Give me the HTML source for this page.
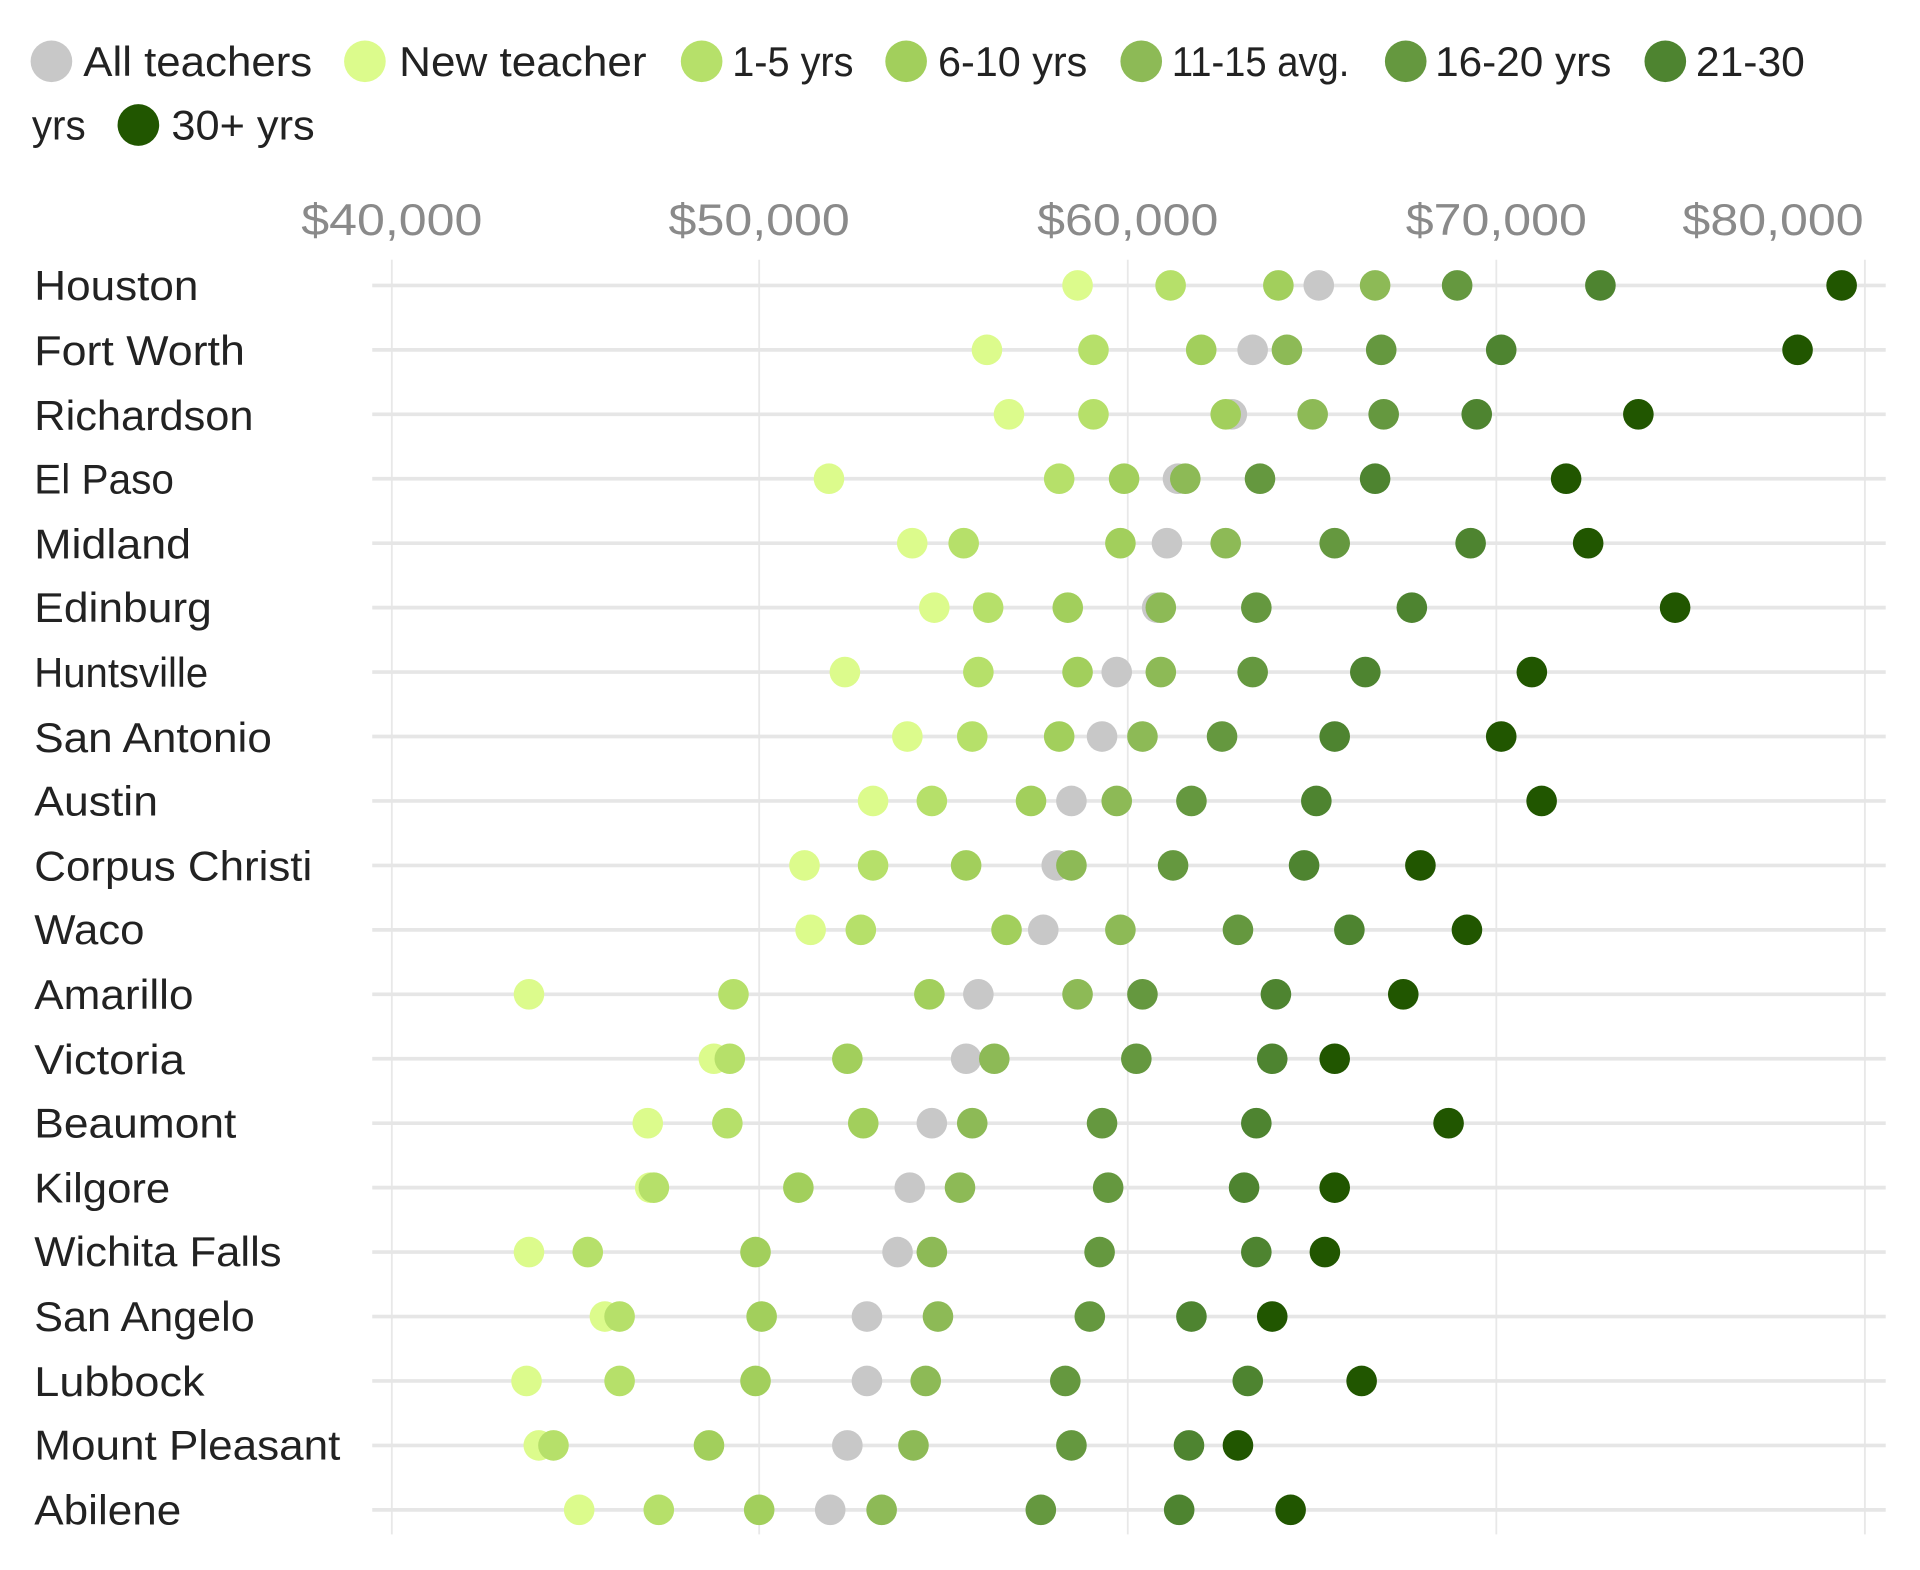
<!DOCTYPE html>
<html><head><meta charset="utf-8"><style>
html,body{margin:0;padding:0;background:#fff;}
svg{display:block;}
text{font-family:"Liberation Sans",sans-serif;}
</style></head><body>
<svg id="s" width="1920" height="1570" viewBox="0 0 1568 1282" xmlns="http://www.w3.org/2000/svg">
<g id="grid"></g>
<g font-size="34" fill="#222" lengthAdjust="spacingAndGlyphs">
<circle cx="42" cy="50" r="17" fill="#c8c8c8"/><text x="68" y="62" textLength="187" lengthAdjust="spacingAndGlyphs">All teachers</text>
<circle cx="298" cy="50" r="17" fill="#dcfb8c"/><text x="326" y="62" textLength="202" lengthAdjust="spacingAndGlyphs">New teacher</text>
<circle cx="573" cy="50" r="17" fill="#b6e06a"/><text x="598" y="62" textLength="99" lengthAdjust="spacingAndGlyphs">1-5 yrs</text>
<circle cx="740" cy="50" r="17" fill="#a2cf5c"/><text x="766" y="62" textLength="122" lengthAdjust="spacingAndGlyphs">6-10 yrs</text>
<circle cx="932" cy="50" r="17" fill="#8dba56"/><text x="957" y="62" textLength="145" lengthAdjust="spacingAndGlyphs">11-15 avg.</text>
<circle cx="1148" cy="50" r="17" fill="#65983f"/><text x="1172" y="62" textLength="144" lengthAdjust="spacingAndGlyphs">16-20 yrs</text>
<circle cx="1360" cy="50" r="17" fill="#4e8430"/><text x="1385" y="62" textLength="89" lengthAdjust="spacingAndGlyphs">21-30</text>
<text x="26" y="114" textLength="44" lengthAdjust="spacingAndGlyphs">yrs</text>
<circle cx="113" cy="102" r="17" fill="#215600"/><text x="140" y="114" textLength="117" lengthAdjust="spacingAndGlyphs">30+ yrs</text>
</g>
<g font-size="36" fill="#8a8a8a">
<text x="246" y="192" textLength="148" lengthAdjust="spacingAndGlyphs">$40,000</text><text x="546" y="192" textLength="148" lengthAdjust="spacingAndGlyphs">$50,000</text><text x="847" y="192" textLength="148" lengthAdjust="spacingAndGlyphs">$60,000</text><text x="1148" y="192" textLength="148" lengthAdjust="spacingAndGlyphs">$70,000</text><text x="1374" y="192" textLength="148" lengthAdjust="spacingAndGlyphs">$80,000</text>
</g>
<g font-size="34" fill="#222">
<text x="28" y="245" textLength="134" lengthAdjust="spacingAndGlyphs">Houston</text>
<text x="28" y="298" textLength="172" lengthAdjust="spacingAndGlyphs">Fort Worth</text>
<text x="28" y="351" textLength="179" lengthAdjust="spacingAndGlyphs">Richardson</text>
<text x="28" y="403" textLength="114" lengthAdjust="spacingAndGlyphs">El Paso</text>
<text x="28" y="456" textLength="128" lengthAdjust="spacingAndGlyphs">Midland</text>
<text x="28" y="508" textLength="145" lengthAdjust="spacingAndGlyphs">Edinburg</text>
<text x="28" y="561" textLength="142" lengthAdjust="spacingAndGlyphs">Huntsville</text>
<text x="28" y="614" textLength="194" lengthAdjust="spacingAndGlyphs">San Antonio</text>
<text x="28" y="666" textLength="101" lengthAdjust="spacingAndGlyphs">Austin</text>
<text x="28" y="719" textLength="227" lengthAdjust="spacingAndGlyphs">Corpus Christi</text>
<text x="28" y="771" textLength="90" lengthAdjust="spacingAndGlyphs">Waco</text>
<text x="28" y="824" textLength="130" lengthAdjust="spacingAndGlyphs">Amarillo</text>
<text x="28" y="877" textLength="123" lengthAdjust="spacingAndGlyphs">Victoria</text>
<text x="28" y="929" textLength="165" lengthAdjust="spacingAndGlyphs">Beaumont</text>
<text x="28" y="982" textLength="111" lengthAdjust="spacingAndGlyphs">Kilgore</text>
<text x="28" y="1034" textLength="202" lengthAdjust="spacingAndGlyphs">Wichita Falls</text>
<text x="28" y="1087" textLength="180" lengthAdjust="spacingAndGlyphs">San Angelo</text>
<text x="28" y="1140" textLength="139" lengthAdjust="spacingAndGlyphs">Lubbock</text>
<text x="28" y="1192" textLength="250" lengthAdjust="spacingAndGlyphs">Mount Pleasant</text>
<text x="28" y="1245" textLength="120" lengthAdjust="spacingAndGlyphs">Abilene</text>
</g>
<g id="dots"></g>
</svg>
<script>
var ns="http://www.w3.org/2000/svg";
function el(p,t,a){var e=document.createElementNS(ns,t);for(var k in a)e.setAttribute(k,a[k]);p.appendChild(e);}
var g=document.getElementById('grid'),d=document.getElementById('dots');
[320,620,921,1222,1523].forEach(function(x){el(g,'line',{x1:x,x2:x,y1:212,y2:1253,stroke:'#e8e8e8','stroke-width':1.5});});
var rows=[
[880,956,1044,1077,1123,1190,1307,1504],
[806,893,981,1023,1051,1128,1226,1468],
[824,893,1001,1006,1072,1130,1206,1338],
[677,865,918,962,968,1029,1123,1279],
[745,787,915,953,1001,1090,1201,1297],
[763,807,872,945,948,1026,1153,1368],
[690,799,880,912,948,1023,1115,1251],
[741,794,865,900,933,998,1090,1226],
[713,761,842,875,912,973,1075,1259],
[657,713,789,863,875,958,1065,1160],
[662,703,822,852,915,1011,1102,1198],
[432,599,759,799,880,933,1042,1146],
[583,596,692,789,812,928,1039,1090],
[529,594,705,761,794,900,1026,1183],
[531,534,652,743,784,905,1016,1090],
[432,480,617,733,761,898,1026,1082],
[494,506,622,708,766,890,973,1039],
[430,506,617,708,756,870,1019,1112],
[440,452,579,692,746,875,971,1011],
[473,538,620,678,720,850,963,1054]];
var cols=['#dcfb8c','#b6e06a','#a2cf5c','#c8c8c8','#8dba56','#65983f','#4e8430','#215600'];
var order=[3,0,1,2,4,5,6,7];
rows.forEach(function(r,i){var y=233+i*52.63;
 el(g,'line',{x1:304,x2:1540,y1:y,y2:y,stroke:'#e6e6e6','stroke-width':3});
 order.forEach(function(j){el(d,'circle',{cx:r[j],cy:y,r:12.5,fill:cols[j]});});
});
</script>
</body></html>
